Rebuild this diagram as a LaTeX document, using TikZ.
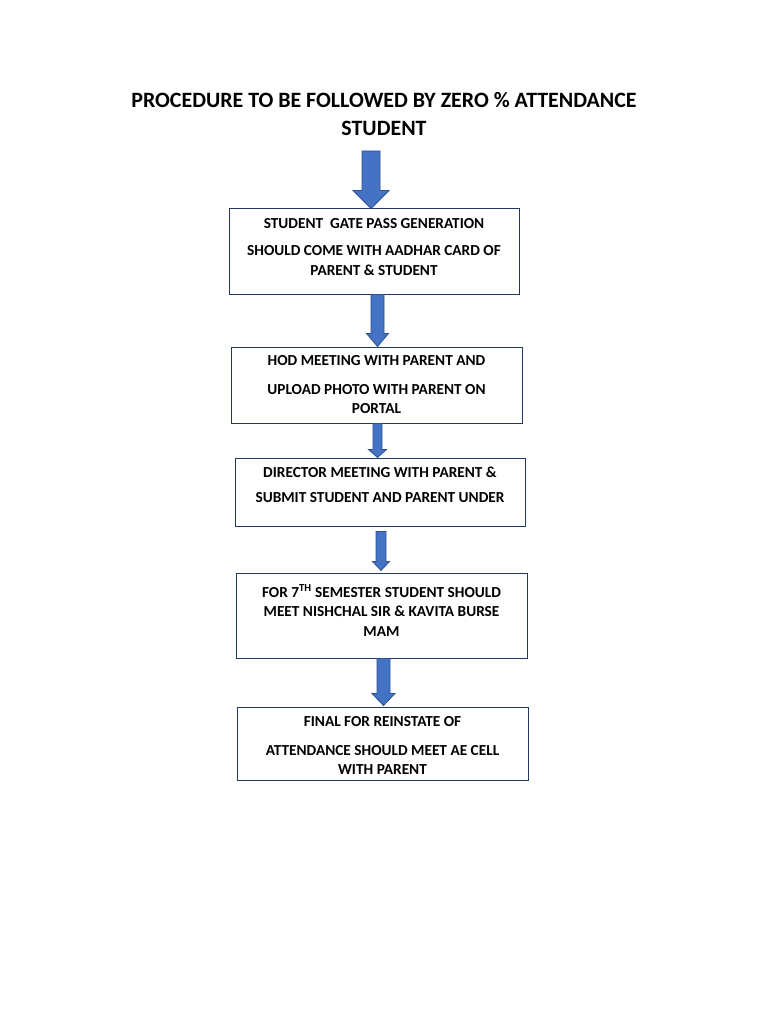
\documentclass[tikz,border=0pt]{standalone}
\usepackage{fontspec}
\setmainfont{Carlito}
\usetikzlibrary{calc}
\definecolor{arrfill}{HTML}{4472C4}
\definecolor{arrline}{HTML}{2F528F}
\definecolor{boxline}{HTML}{203864}
\tikzset{
  boxstyle/.style={draw=boxline, line width=1pt, fill=white, inner sep=0pt},
  txt/.style={align=center, inner sep=0pt, font=\bfseries\fontsize{15.3}{19.5}\selectfont},
  titletxt/.style={align=center, inner sep=0pt, font=\bfseries\fontsize{21.9}{28}\selectfont},
  blockarr/.style={fill=arrfill, draw=arrline, line width=0.8pt, line join=miter}
}
% #1 from, #2 to, #3 x centre, #4 shaft half width, #5 head half width, #6 head length, #7 top gap, #8 tip gap
\newcommand{\blockarrowdraw}[8]{%
  \filldraw[blockarr] let \p1=(#1), \p2=(#2) in
    ({#3pt-#4pt},{\y1-#7pt}) -- ({#3pt+#4pt},{\y1-#7pt}) -- ({#3pt+#4pt},{\y2+#8pt+#6pt})
    -- ({#3pt+#5pt},{\y2+#8pt+#6pt}) -- (#3pt,{\y2+#8pt}) -- ({#3pt-#5pt},{\y2+#8pt+#6pt})
    -- ({#3pt-#4pt},{\y2+#8pt+#6pt}) -- cycle;}
\begin{document}
\begin{tikzpicture}[x=1pt,y=-1pt]
\useasboundingbox[fill=white] (0,0) rectangle (768,1024);

\node[titletxt] (title) at (384,114) {PROCEDURE TO BE FOLLOWED BY ZERO \% ATTENDANCE\\STUDENT};
\coordinate (start) at (371,151);

\node[boxstyle, minimum width=290pt, minimum height=85pt] (b1) at (374,251.5) {};
\node[txt] (t1) at (374,247) {STUDENT\ \ GATE PASS GENERATION\\[8pt]SHOULD COME WITH AADHAR CARD OF\\PARENT \& STUDENT};

\node[boxstyle, minimum width=291pt, minimum height=76pt] (b2) at (376.5,385) {};
\node[txt] (t2) at (376.5,385) {HOD MEETING WITH PARENT AND\\[9pt]UPLOAD PHOTO WITH PARENT ON\\PORTAL};

\node[boxstyle, minimum width=290pt, minimum height=68pt] (b3) at (380,492) {};
\node[txt] (t3) at (380,485) {DIRECTOR MEETING WITH PARENT \&\\[6pt]SUBMIT STUDENT AND PARENT UNDER};

\node[boxstyle, minimum width=291pt, minimum height=85pt] (b4) at (381.5,615.5) {};
\node[txt] (t4) at (381.5,610.5) {FOR 7\textsuperscript{TH} SEMESTER STUDENT SHOULD\\MEET NISHCHAL SIR \& KAVITA BURSE\\MAM};

\node[boxstyle, minimum width=291pt, minimum height=73pt] (b5) at (382.5,743.5) {};
\node[txt] (t5) at (382.5,745.5) {FINAL FOR REINSTATE OF\\[9pt]ATTENDANCE SHOULD MEET AE CELL\\WITH PARENT};

\blockarrowdraw{start}{b1.north}{371}{9}{18}{18}{0}{0}
\blockarrowdraw{b1.south}{b2.north}{377.5}{6.5}{11}{13}{0}{0}
\blockarrowdraw{b2.south}{b3.north}{377.5}{4.5}{9}{8}{0}{0}
\blockarrowdraw{b3.south}{b4.north}{381}{5}{8.5}{9}{5}{2}
\blockarrowdraw{b4.south}{b5.north}{383.5}{6.5}{11.5}{12}{0}{1}
\end{tikzpicture}
\end{document}
